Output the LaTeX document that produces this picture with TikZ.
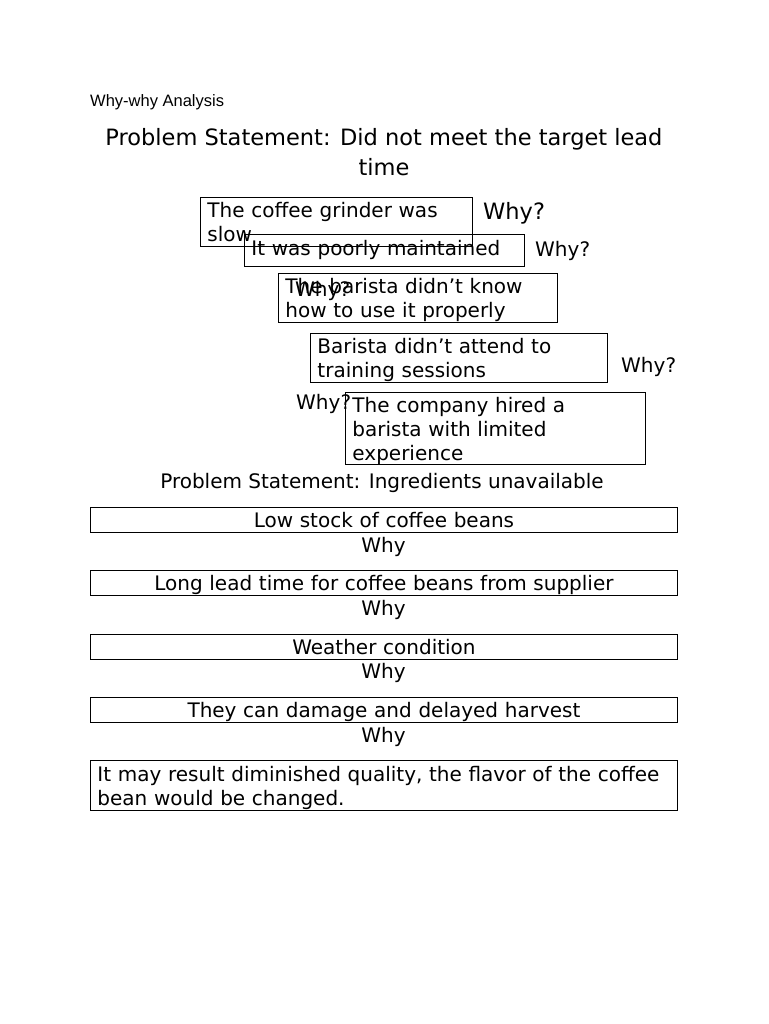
\documentclass[tikz,border=0pt]{standalone}
\usepackage{fontspec}
\setmainfont{DejaVu Sans}
\newfontfamily\arialf{Liberation Sans}
\newcommand\bodyf{\fontsize{20}{24}\selectfont}
\newcommand\bigf{\fontsize{22.5}{30}\selectfont}
\newcommand\stt{\rule[-4.2pt]{0pt}{24pt}}
\begin{document}
\begin{tikzpicture}[x=1pt,y=-1pt,
  box/.style={draw, line width=0.9pt, inner xsep=7pt, inner ysep=0pt, anchor=north west, font=\bodyf},
  lbox/.style={box, align=left},
  wbox/.style={box, align=center, minimum width=587pt, text width=573pt},
  why/.style={inner sep=0pt, anchor=base west, font=\bodyf},
  whyc/.style={inner sep=0pt, anchor=base, font=\bodyf},
  heading/.style={inner sep=0pt, anchor=base, font=\bodyf}
]
\useasboundingbox (0,0) rectangle (768,1024);
\fill[white] (0,0) rectangle (768,1024);

\node[inner sep=0pt, anchor=base west, font=\arialf\fontsize{16.5}{19}\selectfont] (ttl) at (90,107) {Why-why Analysis};
\node[inner sep=0pt, anchor=base, align=center, font=\bigf] (ps1) at (384,176) {Problem Statement: Did not meet the target lead\\time};

\node[lbox, minimum width=272pt, text width=258pt, minimum height=49pt] (b1) at (200,197) {\stt The coffee grinder was\\slow\stt};
\node[lbox, minimum width=280pt, text width=266pt, minimum height=32pt] (b2) at (244,234) {\strut It was poorly maintained\strut};
\node[lbox, minimum width=279pt, text width=265pt, minimum height=49pt] (b3) at (278,273) {\stt The barista didn’t know\\how to use it properly\stt};
\node[lbox, minimum width=297pt, text width=283pt, minimum height=49pt] (b4) at (310,333) {\stt Barista didn’t attend to\\training sessions\stt};
\node[lbox, minimum width=300pt, text width=286pt, minimum height=72pt] (b5) at (345,392) {\stt The company hired a\\barista with limited\\experience\stt};

\node[why, font=\bigf] (w1) at (483,219) {Why?};
\node[why] (w2) at (535,256) {Why?};
\node[why] (w3) at (295,296) {Why?};
\node[why] (w4) at (621,372) {Why?};
\node[why] (w5) at (296,409) {Why?};

\node[heading] (ps2) at (382,488) {Problem Statement: Ingredients unavailable};

\node[wbox, minimum height=25pt] (c1) at (90,507) {\stt Low stock of coffee beans\stt};
\node[whyc] (y1) at (383.5,552) {Why};
\node[wbox, minimum height=25pt] (c2) at (90,570) {\stt Long lead time for coffee beans from supplier\stt};
\node[whyc] (y2) at (383.5,615) {Why};
\node[wbox, minimum height=25pt] (c3) at (90,634) {\stt Weather condition\stt};
\node[whyc] (y3) at (383.5,678) {Why};
\node[wbox, minimum height=25pt] (c4) at (90,697) {\stt They can damage and delayed harvest\stt};
\node[whyc] (y4) at (383.5,742) {Why};
\node[box, align=left, minimum width=587pt, text width=573pt, minimum height=50pt] (c5) at (90,760) {\stt It may result diminished quality, the flavor of the coffee\\bean would be changed.\stt};
\end{tikzpicture}
\end{document}
